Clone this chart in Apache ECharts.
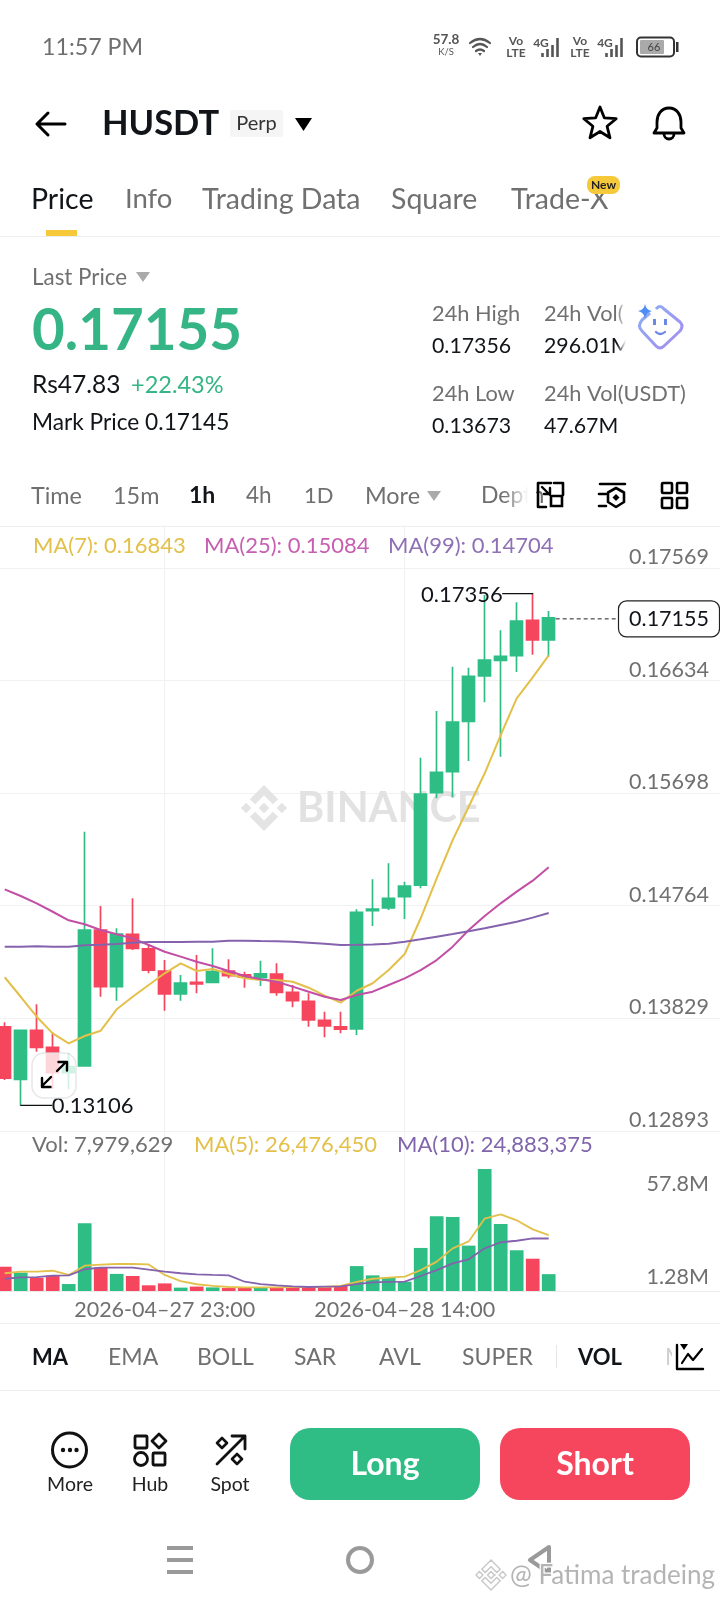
<!DOCTYPE html>
<html><head><meta charset="utf-8">
<style>html,body{margin:0;padding:0;background:#fff}#c{width:720px;height:1600px}</style>
<script src="https://cdn.jsdelivr.net/npm/echarts@6/dist/echarts.min.js"></script>
</head><body><div id="c"></div>
<script>
const hours = ['04-27 13:00','04-27 14:00','04-27 15:00','04-27 16:00','04-27 17:00','04-27 18:00','04-27 19:00','04-27 20:00','04-27 21:00','04-27 22:00','04-27 23:00','04-28 00:00','04-28 01:00','04-28 02:00','04-28 03:00','04-28 04:00','04-28 05:00','04-28 06:00','04-28 07:00','04-28 08:00','04-28 09:00','04-28 10:00','04-28 11:00','04-28 12:00','04-28 13:00','04-28 14:00','04-28 15:00','04-28 16:00','04-28 17:00','04-28 18:00','04-28 19:00','04-28 20:00','04-28 21:00','04-28 22:00','04-28 23:00'];
const emptySlots = ['','','','','','','','','','',''];
const opens  = [0.13759,0.13322,0.13729,0.13588,0.13377,0.13433,0.14562,0.14092,0.14527,0.14405,0.14222,0.14031,0.14128,0.14128,0.14222,0.14189,0.14166,0.14197,0.14045,0.13970,0.13812,0.13759,0.13740,0.14723,0.14745,0.14839,0.14936,0.15703,0.15877,0.16296,0.16672,0.16802,0.16841,0.17135,0.16973];
const closes = [0.13331,0.13729,0.13588,0.13377,0.13427,0.14562,0.14092,0.14529,0.14410,0.14230,0.14031,0.14122,0.14114,0.14216,0.14183,0.14170,0.14199,0.14045,0.13975,0.13815,0.13765,0.13738,0.14709,0.14737,0.14826,0.14928,0.15692,0.15872,0.16290,0.16670,0.16805,0.16836,0.17129,0.16971,0.17155];
const lows   = [0.13317,0.13106,0.13552,0.13242,0.13239,0.13433,0.14008,0.13975,0.14396,0.14203,0.13892,0.13975,0.14037,0.14128,0.14161,0.14083,0.14097,0.14017,0.13920,0.13759,0.13671,0.13704,0.13690,0.14596,0.14729,0.14654,0.14909,0.15656,0.15665,0.15966,0.16454,0.16002,0.16705,0.16849,0.16832];
const highs  = [0.13796,0.13732,0.13945,0.13713,0.13538,0.15379,0.14762,0.14577,0.14826,0.14446,0.14313,0.14189,0.14355,0.14410,0.14319,0.14216,0.14307,0.14286,0.14106,0.14037,0.13884,0.13884,0.14734,0.14983,0.15116,0.14964,0.15993,0.16381,0.16749,0.16741,0.17345,0.17052,0.17284,0.17356,0.17212];
const ma7  = [0.14170,0.14008,0.13842,0.13704,0.13621,0.13682,0.13726,0.13904,0.14008,0.14106,0.14203,0.14286,0.14222,0.14238,0.14197,0.14161,0.14147,0.14147,0.14133,0.14083,0.14017,0.13959,0.14058,0.14120,0.14230,0.14363,0.14660,0.14992,0.15310,0.15586,0.15864,0.16182,0.16487,0.16661,0.16843];
const ma25 = [0.14900,0.14845,0.14784,0.14714,0.14643,0.14610,0.14562,0.14527,0.14493,0.14438,0.14382,0.14341,0.14299,0.14263,0.14222,0.14180,0.14153,0.14133,0.14092,0.14050,0.14008,0.13981,0.14023,0.14050,0.14106,0.14161,0.14230,0.14313,0.14424,0.14562,0.14679,0.14784,0.14881,0.14972,0.15084];
const ma99 = [0.14424,0.14424,0.14427,0.14424,0.14424,0.14435,0.14440,0.14446,0.14457,0.14463,0.14463,0.14463,0.14465,0.14465,0.14474,0.14474,0.14471,0.14469,0.14465,0.14457,0.14449,0.14438,0.14440,0.14443,0.14449,0.14465,0.14485,0.14507,0.14529,0.14552,0.14577,0.14604,0.14631,0.14665,0.14704];
const volumes = [11.5,8.7,6.2,7.3,3.3,32.1,11.2,8.1,7.1,2.7,3.6,1.6,2.1,1.7,1.4,1.6,1.7,1.7,1.7,1.9,2.1,2.4,11.8,7.4,6.5,4.4,20.4,35.4,35.1,21.5,57.8,31.7,19.3,15.3,7.98];
const volMa5  = [8.4,9.2,9.2,9.6,7.6,12.0,12.5,12.8,12.8,12.6,7.6,4.7,3.2,2.4,1.9,1.7,1.7,1.7,1.9,1.9,1.9,2.4,4.3,5.8,6.3,6.8,9.9,13.9,20.2,23.5,34.3,36.3,33.5,29.2,26.48];
const volMa10 = [5.8,6.5,6.6,7.3,7.4,10.3,11.1,11.1,11.1,10.1,9.2,8.4,7.9,7.6,7.4,4.4,3.3,2.7,2.2,1.9,2.1,2.2,3.3,4.1,4.3,4.4,7.1,9.9,13.1,15.0,20.2,23.1,23.8,24.9,24.88];
const priceTicks = [0.12893,0.13829,0.14764,0.15698,0.16634,0.17569];
const volTicks = [1.28,57.8];
const dateTicks = ['04-27 23:00','04-28 14:00'];
const lastPrice = 0.17155;

const UP='#2ebd85', DOWN='#f6465d', GRID='#f1f1f1', GREY='#707070', INK='#111418';
const C_Y='#e3c04a', C_M='#c24fa5', C_P='#8562ad';
const FF='Lato';
const cats = hours.concat(emptySlots);
const marked = (i,v)=>dateTicks.includes(v);
const chart = echarts.init(document.getElementById('c'));
const lineSeries=(name,data,color,x,y,w)=>({name,type:'line',data,xAxisIndex:x,yAxisIndex:y,showSymbol:false,symbol:'none',silent:true,z:4,
  lineStyle:{color,width:w||2},itemStyle:{color}});
const xBase={type:'category',data:cats,boundaryGap:true,axisTick:{show:false},
  splitLine:{show:true,interval:marked,alignWithLabel:true,lineStyle:{color:GRID,width:1}}};
chart.setOption({
  animation:false,backgroundColor:'#fff',
  grid:[{left:-3.3,width:736,top:526,height:605,outerBoundsMode:'none'},{left:-3.3,width:736,top:1131,height:160,outerBoundsMode:'none'}],
  xAxis:[
    Object.assign({},xBase,{gridIndex:0,axisLine:{show:false},axisLabel:{show:false}}),
    Object.assign({},xBase,{gridIndex:1,axisLine:{show:true,lineStyle:{color:'#ececec'}},
      axisLabel:{show:true,interval:marked,margin:8,color:GREY,fontFamily:FF,fontSize:21.5,formatter:v=>'2026-'+v.replace('-','\u2013').replace(' ',' ')}})
  ],
  yAxis:[
    {gridIndex:0,type:'value',position:'right',min:0.12893,max:0.17918,
     axisLine:{show:false},
     axisTick:{show:false,customValues:priceTicks},
     axisLabel:{show:true,inside:true,customValues:priceTicks,margin:23.7,color:GREY,fontFamily:FF,fontSize:21.5,verticalAlign:'bottom',padding:[0,0,0,0],formatter:v=>v.toFixed(5)},
     splitLine:{show:true,lineStyle:{color:GRID,width:1}}},
    {gridIndex:1,type:'value',position:'right',min:0,max:75.8,
     axisLine:{show:false},
     axisTick:{show:false,customValues:volTicks},
     axisLabel:{show:true,inside:true,customValues:volTicks,margin:23.7,color:GREY,fontFamily:FF,fontSize:21.5,
       verticalAlignMinLabel:'bottom',verticalAlignMaxLabel:'top',padding:[4,0,0,0],formatter:v=>v+'M'},
     splitLine:{show:false}}
  ],
  series:[
    {name:'HUSDT',type:'candlestick',xAxisIndex:0,yAxisIndex:0,barWidth:12,z:3,silent:true,
     data:opens.map((o,i)=>[o,closes[i],lows[i],highs[i]]),
     itemStyle:{color:UP,color0:DOWN,borderColor:UP,borderColor0:DOWN,borderWidth:1.7}},
    lineSeries('MA(7)',ma7,C_Y,0,0),
    lineSeries('MA(25)',ma25,C_M,0,0),
    lineSeries('MA(99)',ma99,C_P,0,0),
    {name:'Vol',type:'bar',xAxisIndex:1,yAxisIndex:1,barWidth:13.7,z:3,silent:true,
     data:volumes.map((v,i)=>({value:v,itemStyle:{color:closes[i]>=opens[i]?UP:DOWN}}))},
    lineSeries('MA(5)',volMa5,C_Y,1,1,1.8),
    lineSeries('MA(10)',volMa10,C_P,1,1,1.8)
  ]
});

// ---- chrome -----
const g=[];
let shapeCount=0;
const shapeOf=d=>{const n='ui'+(shapeCount++);echarts.graphic.registerShape(n,echarts.graphic.extendPath(d,{}));return n;};
const T=(x,y,text,font,fill,align,z)=>g.push({type:'text',z:z||10,silent:true,style:{x,y,text,font:font+' '+FF,fill,align:align||'left',verticalAlign:'middle'}});
const P=(d,style,z,extra)=>g.push(Object.assign({type:shapeOf(d),z:z||10,silent:true,style},extra||{}));
const S=(d,w,col,z)=>P(d,{fill:null,stroke:col||'#000',lineWidth:w||3,lineJoin:'round',lineCap:'round'},z);
const F=(d,col,z)=>P(d,{fill:col||'#000'},z);
const R=(x,y,w,h,r,fill,stroke,lw,z)=>g.push({type:'rect',z:z||10,silent:true,shape:{x,y,width:w,height:h,r},style:{fill,stroke:stroke||null,lineWidth:lw||1}});
const HL=(y,col)=>R(0,y,720,1,0,col||'#eeeeee');

// watermark behind marks
const LOGO='M38.73 53.2l24.59-24.58 24.6 24.6 14.3-14.31L63.32 0 24.42 38.9l14.31 14.3zM0 63.31l14.3-14.31 14.31 14.31-14.31 14.3L0 63.31zM38.73 73.41l24.59 24.59 24.6-24.6 14.31 14.29-38.9 38.91-38.91-38.88-.02-.02 14.32-14.29zM97.99 63.31l14.3-14.3 14.32 14.3-14.31 14.32-14.31-14.32zM77.83 63.3h.01L63.32 48.78 52.59 59.51l-1.24 1.23-2.54 2.54-.02.02.02.03 14.51 14.5 14.52-14.52.01-.01z';
P(LOGO,{fill:'#e4e4e4'},1,{x:241,y:785,scaleX:46/126.6,scaleY:46/126.6});
g.push({type:'text',z:1,silent:true,style:{x:297,y:809,text:'BINANCE',font:'bold 41.5px '+FF,fill:'#e2e2e2',verticalAlign:'middle'}});

// status bar
T(42,48,'11:57 PM','23.2px','#6e6e6e');
T(446,40,'57.8','bold 13.5px','#555','center');T(446,52,'K/S','9.5px','#555','center');
S('M470 43 Q480 35 490 43',2.2,'#555');S('M473 47 Q480 41 487 47',2.2,'#555');S('M476 51 Q480 48 484 51',2.2,'#555');F('M478 53h4l-2 3z','#555');
T(516,41,'Vo','bold 12px','#555','center');T(516,53,'LTE','bold 12px','#555','center');
T(541,43,'4G','bold 12px','#555','center');
[[542,4],[547,8],[552,12],[557,19]].forEach(b=>R(b[0]-.8,57-b[1],2.6,b[1],0,'#555'));
T(580,41,'Vo','bold 12px','#555','center');T(580,53,'LTE','bold 12px','#555','center');
T(605,43,'4G','bold 12px','#555','center');
[[606,4],[611,8],[616,12],[621,19]].forEach(b=>R(b[0]-.8,57-b[1],2.6,b[1],0,'#555'));
R(637,37.5,37,19,4,null,'#333',2);R(640,40,24,14,1,'#aaa');F('M676 42h2.5v10H676z','#333');T(654,47,'66','11px','#444','center');

// header
S('M37 124H65M48 113L37 124L48 135',3,'#000');
T(102,124,'HUSDT','bold 34.5px',INK);
R(230,110,53,27,2,'#f5f5f5');T(256.5,124,'Perp','20px','#333','center');
F('M295 118H312L303.5 131Z','#000');
S('M600 107L604.4 117.9L616.2 118.7L607.1 126.3L610 137.8L600 131.5L590 137.8L592.9 126.3L583.8 118.7L595.6 117.9Z',2.8,'#000');
S('M669 108C661 108 657 115 657 122L657 128L654 133L684 133L681 128L681 122C681 115 677 108 669 108ZM664 134A5 5 0 0 0 674 134',2.8,'#000');

// tabs
T(31,199.5,'Price','28.5px',INK);
T(125,199.5,'Info','27.5px',GREY);
T(202,199.5,'Trading Data','28.5px',GREY);
T(391,199.5,'Square','28.5px',GREY);
T(511,199.5,'Trade-X','28.5px',GREY);
R(587,176,33,18,8,'#f5c93a');T(603.5,185,'New','bold 12px','#222','center');
R(46,230,31,6,0,'#f5c93a');HL(236);

// price block
T(32,278,'Last Price','22.4px',GREY);F('M136 272H150L143 282Z','#aaa');
T(32,332,'0.17155','bold 56.5px','#35b585');
T(32,385,'Rs47.83','24.5px',INK);T(131,385,'+22.43%','23.5px','#35b585');
T(32,423,'Mark Price 0.17145','22.7px',INK);
T(432,314,'24h High','21.8px',GREY);T(432,346,'0.17356','21.3px',INK);
T(544,314,'24h Vol(','21.8px',GREY);T(544,346,'296.01M','21.3px',INK);
T(432,394,'24h Low','21.8px',GREY);T(432,426,'0.13673','21.3px',INK);
T(544,394,'24h Vol(USDT)','21.8px',GREY);T(544,426,'47.67M','21.3px',INK);
g.push({type:'rect',z:11,silent:true,shape:{x:617,y:300,width:18,height:60},style:{fill:new echarts.graphic.LinearGradient(0,0,1,0,[{offset:0,color:'rgba(255,255,255,0)'},{offset:.5,color:'#fff'},{offset:1,color:'#fff'}])}});
P('M656 309Q660 304 664 309L680 322Q684 326 680 331L664 346Q660 350 656 346L642 331Q637 326 642 320L650 313',{fill:null,lineWidth:3,lineJoin:'round',stroke:new echarts.graphic.LinearGradient(0,0,1,1,[{offset:0,color:'#8bb0f5'},{offset:1,color:'#a58bef'}])},12);
F('M645 304Q646 310 652 311Q646 312 645 319Q644 312 638 311Q644 310 645 304Z','#4d8df6',12);
F('M653 319h3v6h-3zM664 319h3v6h-3z','#6c86e8',12);S('M656 332Q660 336 665 332',2.2,'#6c86e8',12);

// interval row
T(31,496,'Time','23.4px',GREY);T(113,496,'15m','23.4px',GREY);T(189,496,'1h','bold 23px',INK);
T(246,496,'4h','22.5px',GREY);T(304,496,'1D','22px',GREY);T(365,496,'More','23.4px',GREY);
F('M427 491H441L434 501Z','#aaa');T(481,496,'Depth','23px',GREY);
g.push({type:'rect',z:11,silent:true,shape:{x:505,y:480,width:31,height:32},style:{fill:new echarts.graphic.LinearGradient(0,0,1,0,[{offset:0,color:'rgba(255,255,255,0)'},{offset:.75,color:'#fff'},{offset:1,color:'#fff'}])}});
S('M551 483H538V507H546M563 495V483H554',2.6,'#000',12);R(551,496,11,10,0,null,'#000',2.6,12);S('M542 487L550 495M544 494H550V488',2.4,'#000',12);
S('M600 484H625M599 494H606M599 506H606',2.6,'#000',12);S('M616 488L624 492.5V502L616 507L608 502V492.5Z',2.6,'#000',12);F('M616 494l3.5 3.5-3.5 3.5-3.5-3.5z','#000',12);
[[662,483],[677,483],[662,498],[677,498]].forEach(p=>R(p[0],p[1],10,10,1,null,'#000',2.6,12));
HL(526);

// MA legends
const LF='22px';
T(33,545.5,'MA(7): 0.16843',LF,C_Y);T(204,545.5,'MA(25): 0.15084',LF,'#c65fb0');T(388,545.5,'MA(99): 0.14704',LF,'#8e70b5');
T(32,1145,'Vol: 7,979,629',LF,GREY);T(194,1145,'MA(5): 26,476,450',LF,C_Y);T(397,1145,'MA(10): 24,883,375',LF,'#8065ad');

// bottom tabs
HL(1323);HL(1390);
const BF='23px';
T(32,1358,'MA','bold 22px',INK);T(108,1358,'EMA',BF,GREY);T(197,1358,'BOLL',BF,GREY);T(294,1358,'SAR',BF,GREY);T(379,1358,'AVL',BF,GREY);T(462,1358,'SUPER',BF,GREY);
R(556,1345,1,23,0,'#e6e6e6');T(578,1358,'VOL','bold 22px',INK);T(665,1358,'M',BF,'#cfcfcf');
R(672,1340,36,34,0,'#fff',null,1,11);
S('M677 1345V1369H703',2.4,'#000',12);S('M682 1363L688 1354L693 1360L702 1349',2.2,'#000',12);F('M680 1344H688L684 1350Z','#000',12);

// action row
g.push({type:'circle',z:10,silent:true,shape:{cx:69.5,cy:1450,r:17},style:{fill:null,stroke:'#111',lineWidth:3}});
[63,70,76.5].forEach(x=>g.push({type:'circle',z:10,silent:true,shape:{cx:x,cy:1450,r:2.2},style:{fill:'#111'}}));
T(70,1485,'More','19.5px','#222','center');
R(135,1436,12,12,1,null,'#111',2.8);S('M159 1434L166 1441L159 1448L152 1441Z',2.8,'#111');
g.push({type:'circle',z:10,silent:true,shape:{cx:141,cy:1459,r:6.5},style:{fill:null,stroke:'#111',lineWidth:2.8}});R(153,1453,12,12,1,null,'#111',2.8);
T(150,1485,'Hub','19.5px','#222','center');
S('M217 1464L245 1436M232 1436H245V1449',2.8,'#111');S('M222 1438L227 1443L222 1448L217 1443Z',2.6,'#111');S('M237 1454L242 1459L237 1464L232 1459Z',2.6,'#111');
T(230,1485,'Spot','19.5px','#222','center');
R(290,1428,190,72,20,'#2fbd85');T(385,1465,'Long','bold 32px','#fff','center');
R(500,1428,190,72,20,'#f6465d');T(595,1465,'Short','bold 32px','#fff','center');

// nav bar
[1546,1558,1570].forEach(y=>R(167,y,26,4,0,'#9a9a9a'));
g.push({type:'circle',z:10,silent:true,shape:{cx:360,cy:1560,r:12},style:{fill:null,stroke:'#9a9a9a',lineWidth:4}});
S('M549 1547V1573L530 1560Z',4,'#9a9a9a');
// repost mark
P(LOGO,{fill:null,stroke:'#c8c8c8',lineWidth:6},13,{x:476,y:1560,scaleX:30/126.6,scaleY:30/126.6});
g.push({type:'text',z:13,silent:true,style:{x:510,y:1576,text:'@ Fatima tradeing',font:'26px '+FF,fill:'#b4b4b4',stroke:'#ffffff',lineWidth:2.5,verticalAlign:'middle'}});

// annotations drawn from the chart's own scales
const px=(i,v)=>chart.convertToPixel({gridIndex:0},[i,v]);
const hiIdx=highs.indexOf(Math.max.apply(null,highs)), loIdx=lows.indexOf(Math.min.apply(null,lows));
const hi=px(hiIdx,highs[hiIdx]), lo=px(loIdx,lows[loIdx]), now=px(opens.length-1,lastPrice);
S('M'+hi[0]+' '+hi[1]+'H'+(hi[0]-30),1.3,'#111',12);
T(hi[0]-30,hi[1]+1,highs[hiIdx].toFixed(5),'22px',INK,'right',12);
S('M'+lo[0]+' '+lo[1]+'H'+(lo[0]+31),1.3,'#111',12);
T(lo[0]+31,lo[1]+1,lows[loIdx].toFixed(5),'22px',INK,'left',12);
P('M'+(now[0]+7)+' '+(now[1]+1)+'H618',{fill:null,stroke:'#222',lineWidth:1,lineDash:[4,3]},12);
R(618.5,now[1]-17,101,36,8,'#fff','#222',1.2,12);
T(709,now[1]+1,lastPrice.toFixed(5),'21.5px',INK,'right',13);

// fullscreen toggle over the candles
R(32,1053,44,45,12,'rgba(255,255,255,0.78)','rgba(225,225,225,0.8)',1.5,14);
S('M57 1071L66 1062M58.5 1062H67V1070.5M51 1077L42 1086M42 1078V1087H50.5',2.4,'#000',15);

chart.setOption({graphic:{elements:g}});
</script></body></html>
